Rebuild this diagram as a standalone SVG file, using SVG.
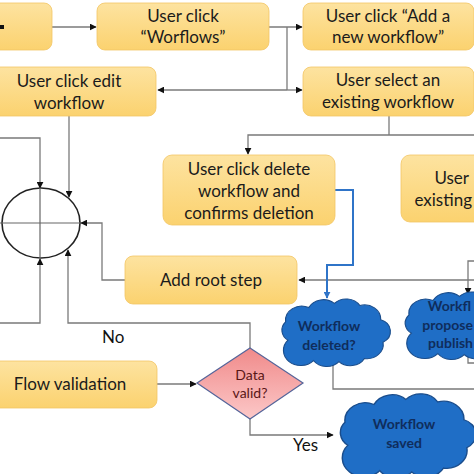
<svg xmlns="http://www.w3.org/2000/svg" width="474" height="474" viewBox="0 0 474 474">
<defs>
<linearGradient id="yg" x1="0" y1="0" x2="0" y2="1"><stop offset="0" stop-color="#fde3a0"/><stop offset="1" stop-color="#fbd26f"/></linearGradient>
<linearGradient id="pg" x1="0" y1="0" x2="0" y2="1"><stop offset="0" stop-color="#f08a8a"/><stop offset="1" stop-color="#fcc8c8"/></linearGradient>
<marker id="ah" viewBox="0 0 10 10" refX="9" refY="5" markerWidth="7" markerHeight="7" markerUnits="userSpaceOnUse" orient="auto"><path d="M0,0 L10,5 L0,10 Z" fill="#111"/></marker>
<marker id="ahb" viewBox="0 0 10 10" refX="9" refY="5" markerWidth="7" markerHeight="7" markerUnits="userSpaceOnUse" orient="auto"><path d="M0,0 L10,5 L0,10 Z" fill="#2f74c8"/></marker>
<path id="cloud" d="M -38,8 A 12 12 0 0 1 -40,-10 A 14 14 0 0 1 -20,-24 A 14 14 0 0 1 2,-28 A 14 14 0 0 1 24,-26 A 14 14 0 0 1 42,-12 A 12 12 0 0 1 44,10 A 14 14 0 0 1 28,26 A 14 14 0 0 1 6,29 A 14 14 0 0 1 -16,28 A 14 14 0 0 1 -38,8 Z"/>
</defs>
<style>
.box{fill:url(#yg);stroke:#f3c565;stroke-width:0.8}
.t{font-family:Lato,"Liberation Sans",sans-serif;font-size:17px;fill:#1b1b1b;text-anchor:middle}
.ct{font-family:Lato,"Liberation Sans",sans-serif;font-size:14px;font-weight:bold;fill:#0f2d5c;text-anchor:middle}
.cl{fill:#1f6ec6;stroke:#1a4d8c;stroke-width:1}
.ln{fill:none;stroke:#7a7a7a;stroke-width:1.3}
.lb{font-family:Lato,"Liberation Sans",sans-serif;font-size:17px;fill:#111}
.dt{font-family:Lato,"Liberation Sans",sans-serif;font-size:14px;fill:#5a1616;text-anchor:middle}
</style>
<rect width="474" height="474" fill="#fff"/>

<g id="connectors">
<path class="ln" d="M52,27 H96" marker-end="url(#ah)"/>
<path class="ln" d="M269,27 H302" marker-end="url(#ah)"/>
<path class="ln" d="M287,27 V90"/>
<path class="ln" d="M287,90 H158" marker-end="url(#ah)"/>
<path class="ln" d="M287,90 H302" marker-end="url(#ah)"/>
<path class="ln" d="M389,116 V135"/>
<path class="ln" d="M474,135 H248 V154" marker-end="url(#ah)"/>
<path class="ln" d="M0,138 H40 V188" marker-end="url(#ah)"/>
<path class="ln" d="M69,116 V197" marker-end="url(#ah)"/>
<path class="ln" d="M125,280 H102 V223 H81" marker-end="url(#ah)"/>
<path class="ln" d="M0,323 H40 V259" marker-end="url(#ah)"/>
<path class="ln" d="M250,348 V323 H68 V250" marker-end="url(#ah)"/>
<path class="ln" d="M474,280 H299" marker-end="url(#ah)"/>
<path class="ln" d="M474,261 H468 V294" marker-end="url(#ah)"/>
<path class="ln" d="M468,354 V363 H474"/>
<path class="ln" d="M333,362 V389 H474"/>
<path class="ln" d="M157,384 H196" marker-end="url(#ah)"/>
<path class="ln" d="M250,419 V435 H333" marker-end="url(#ah)"/>
<path d="M335,190 H353 V265 H327 V298" fill="none" stroke="#2f74c8" stroke-width="2" marker-end="url(#ahb)"/>
</g>

<g id="node-start">
<rect class="box" x="-12" y="3" width="64" height="47" rx="8"/>
<rect x="0" y="25" width="4" height="4" fill="#111"/>
</g>
<g id="node-workflows">
<rect class="box" x="97" y="3" width="172" height="47" rx="8"/>
<text class="t" x="183" y="22">User click</text>
<text class="t" x="183" y="43">“Worflows”</text>
</g>
<g id="node-add">
<rect class="box" x="303" y="3" width="171" height="47" rx="8"/>
<text class="t" x="388" y="22">User click “Add a</text>
<text class="t" x="388" y="43">new workflow”</text>
</g>
<g id="node-edit">
<rect class="box" x="-12" y="67" width="168" height="49" rx="8"/>
<text class="t" x="69" y="87">User click edit</text>
<text class="t" x="69" y="109">workflow</text>
</g>
<g id="node-select">
<rect class="box" x="303" y="67" width="171" height="49" rx="8"/>
<text class="t" x="388" y="86">User select an</text>
<text class="t" x="388" y="108">existing workflow</text>
</g>
<g id="node-delete">
<rect class="box" x="163" y="155" width="172" height="70" rx="9"/>
<text class="t" x="249" y="175">User click delete</text>
<text class="t" x="249" y="197">workflow and</text>
<text class="t" x="249" y="219">confirms deletion</text>
</g>
<g id="node-existing2">
<rect class="box" x="401" y="155" width="90" height="67" rx="9"/>
<text class="t" x="469" y="184" style="text-anchor:end">User</text>
<text class="t" x="472" y="206" style="text-anchor:end">existing</text>
</g>
<g id="node-root">
<rect class="box" x="125" y="256" width="172" height="48" rx="8"/>
<text class="t" x="211" y="286">Add root step</text>
</g>
<g id="node-junction">
<ellipse cx="41" cy="223" rx="39" ry="35" fill="#fff" stroke="#222" stroke-width="1.6"/>
<line x1="0" y1="223" x2="80" y2="223" stroke="#666" stroke-width="1.2"/>
<line x1="40" y1="188" x2="40" y2="258" stroke="#666" stroke-width="1.2"/>
</g>
<g id="node-validation">
<rect class="box" x="-12" y="361" width="169" height="47" rx="8"/>
<text class="t" x="70" y="390">Flow validation</text>
</g>
<g id="node-valid">
<path d="M250,348 L303,383 L250,419 L197,383 Z" fill="url(#pg)" stroke="#55659a" stroke-width="1.2"/>
<text class="dt" x="250" y="380">Data</text>
<text class="dt" x="250" y="398">valid?</text>
</g>
<g id="node-deleted">
<use href="#cloud" class="cl" transform="translate(332,332) scale(1.16,1.02)"/>
<text class="ct" x="329" y="331">Workflow</text>
<text class="ct" x="329" y="350">deleted?</text>
</g>
<g id="node-propose">
<use href="#cloud" class="cl" transform="translate(457,325) scale(1.2,1.02)"/>
<text class="ct" x="471" y="311" style="text-anchor:end">Workfl</text>
<text class="ct" x="473" y="330" style="text-anchor:end">propose</text>
<text class="ct" x="473" y="348" style="text-anchor:end">publish</text>
</g>
<g id="node-saved">
<use href="#cloud" class="cl" transform="translate(403,435) scale(1.45,1.27)"/>
<text class="ct" x="404" y="429">Workflow</text>
<text class="ct" x="404" y="448">saved</text>
</g>
<g id="labels">
<text class="lb" x="102" y="343">No</text>
<text class="lb" x="293" y="451">Yes</text>
</g>
</svg>
